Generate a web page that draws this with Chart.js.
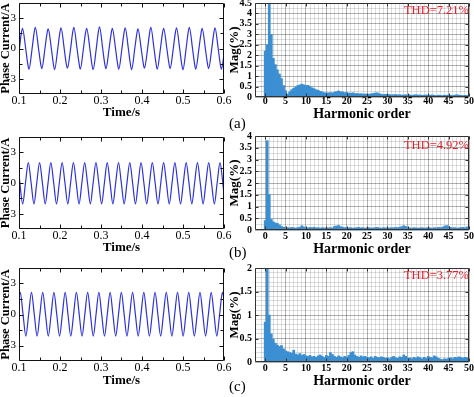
<!DOCTYPE html>
<html><head><meta charset="utf-8">
<script src="https://cdn.jsdelivr.net/npm/chart.js@4.4.1/dist/chart.umd.min.js"></script>
<style>
html,body{margin:0;padding:0;background:#fff;}
#wrap{position:relative;width:474px;height:397px;overflow:hidden;background:#fff;}
canvas{position:absolute;}
.lbl{position:absolute;font-family:"Liberation Serif","Times New Roman",serif;white-space:nowrap;line-height:1;}
.thd{color:#e0202a;font-size:12.5px;}
.tag{font-size:15px;color:#000;}
</style></head><body>
<div id="wrap">
<canvas id="wa" width="237" height="126" style="left:0;top:0;width:237px;height:126px"></canvas>
<canvas id="wb" width="237" height="130" style="left:0;top:128px;width:237px;height:130px"></canvas>
<canvas id="wc" width="237" height="135" style="left:0;top:262px;width:237px;height:135px"></canvas>
<canvas id="sa" width="248" height="126" style="left:226px;top:0;width:248px;height:126px"></canvas>
<canvas id="sb" width="248" height="130" style="left:226px;top:128px;width:248px;height:130px"></canvas>
<canvas id="sc" width="248" height="135" style="left:226px;top:262px;width:248px;height:135px"></canvas>
<div class="lbl thd" style="right:5px;top:4px">THD=7.21%</div>
<div class="lbl thd" style="right:5px;top:139px">THD=4.92%</div>
<div class="lbl thd" style="right:5px;top:269px">THD=3.77%</div>
<div class="lbl tag" style="left:229px;top:116px">(a)</div>
<div class="lbl tag" style="left:229px;top:245px">(b)</div>
<div class="lbl tag" style="left:229px;top:379px">(c)</div>
</div>
<script>
// ---------- waveform data (time in s, phase current in A) ----------
const timeA = [
0.1000,0.1050,0.1085,0.1163,0.1207,0.1242,
0.1320,0.1363,0.1398,0.1476,0.1520,0.1555,
0.1633,0.1676,0.1711,0.1789,0.1833,0.1868,
0.1946,0.1989,0.2024,0.2102,0.2146,0.2181,
0.2259,0.2302,0.2337,0.2415,0.2459,0.2494,
0.2572,0.2615,0.2650,0.2728,0.2772,0.2807,
0.2885,0.2928,0.2963,0.3041,0.3085,0.3120,
0.3198,0.3241,0.3276,0.3354,0.3398,0.3433,
0.3511,0.3554,0.3589,0.3667,0.3711,0.3746,
0.3824,0.3867,0.3902,0.3980,0.4024,0.4059,
0.4137,0.4180,0.4215,0.4293,0.4337,0.4372,
0.4450,0.4493,0.4528,0.4606,0.4650,0.4685,
0.4763,0.4806,0.4841,0.4919,0.4963,0.4998,
0.5076,0.5119,0.5154,0.5232,0.5276,0.5311,
0.5389,0.5432,0.5467,0.5545,0.5589,0.5624,
0.5702,0.5745,0.5780,0.5858,0.5902,0.5937,
0.6000];
const currentA = [
-0.40,1.35,2.00,0.00,-1.35,-2.05,
0.00,1.40,2.10,0.00,-1.30,-2.00,
0.00,1.30,1.95,0.00,-1.40,-2.10,
0.00,1.35,2.05,0.00,-1.35,-1.95,
0.00,1.40,2.10,0.00,-1.30,-2.05,
0.00,1.35,2.00,0.00,-1.40,-2.10,
0.00,1.45,2.15,0.00,-1.35,-2.00,
0.00,1.30,2.00,0.00,-1.35,-2.05,
0.00,1.35,2.05,0.00,-1.40,-2.10,
0.00,1.30,1.95,0.00,-1.30,-1.95,
0.00,1.40,2.10,0.00,-1.35,-2.05,
0.00,1.35,2.00,0.00,-1.30,-2.00,
0.00,1.35,2.05,0.00,-1.40,-2.10,
0.00,1.40,2.10,0.00,-1.35,-2.05,
0.00,1.30,2.00,0.00,-1.30,-2.00,
0.00,1.35,2.05,0.00,-1.35,-2.05,
-0.60];
const timeB = [
0.1000,0.1021,0.1090,
0.1158,0.1227,0.1296,0.1365,
0.1433,0.1502,0.1571,0.1640,
0.1708,0.1777,0.1846,0.1915,
0.1983,0.2052,0.2121,0.2190,
0.2258,0.2327,0.2396,0.2465,
0.2533,0.2602,0.2671,0.2740,
0.2808,0.2877,0.2946,0.3015,
0.3083,0.3152,0.3221,0.3290,
0.3358,0.3427,0.3496,0.3565,
0.3633,0.3702,0.3771,0.3840,
0.3908,0.3977,0.4046,0.4115,
0.4183,0.4252,0.4321,0.4390,
0.4458,0.4527,0.4596,0.4665,
0.4733,0.4802,0.4871,0.4940,
0.5008,0.5077,0.5146,0.5215,
0.5283,0.5352,0.5421,0.5490,
0.5558,0.5627,0.5696,0.5765,
0.5833,0.5902,0.5971,0.6000];
const currentB = [
0.92,0.00,-2.05,
0.00,2.00,0.00,-2.05,
0.00,2.00,0.00,-2.05,
0.00,2.00,0.00,-2.05,
0.00,2.00,0.00,-2.05,
0.00,2.00,0.00,-2.05,
0.00,2.00,0.00,-2.05,
0.00,2.00,0.00,-2.05,
0.00,2.00,0.00,-2.05,
0.00,2.00,0.00,-2.05,
0.00,2.00,0.00,-2.05,
0.00,2.00,0.00,-2.05,
0.00,2.00,0.00,-2.05,
0.00,2.00,0.00,-2.05,
0.00,2.00,0.00,-2.05,
0.00,2.00,0.00,-2.05,
0.00,2.00,0.00,-2.05,
0.00,2.00,0.00,-2.05,
0.00,2.00,0.00,-1.23];
const timeC = [
0.1000,0.1030,0.1099,0.1167,
0.1235,0.1304,0.1373,0.1441,
0.1509,0.1578,0.1647,0.1715,
0.1783,0.1852,0.1921,0.1989,
0.2057,0.2126,0.2195,0.2263,
0.2331,0.2400,0.2469,0.2537,
0.2605,0.2674,0.2743,0.2811,
0.2879,0.2948,0.3017,0.3085,
0.3153,0.3222,0.3291,0.3359,
0.3427,0.3496,0.3565,0.3633,
0.3701,0.3770,0.3839,0.3907,
0.3975,0.4044,0.4113,0.4181,
0.4249,0.4318,0.4387,0.4455,
0.4523,0.4592,0.4661,0.4729,
0.4797,0.4866,0.4935,0.5003,
0.5071,0.5140,0.5209,0.5277,
0.5345,0.5414,0.5483,0.5551,
0.5619,0.5688,0.5757,0.5825,
0.5893,0.5962,0.6000];
const currentC = [
1.66,2.15,0.00,-2.10,
0.00,2.15,0.00,-2.10,
0.00,2.15,0.00,-2.10,
0.00,2.15,0.00,-2.10,
0.00,2.15,0.00,-2.10,
0.00,2.15,0.00,-2.10,
0.00,2.15,0.00,-2.10,
0.00,2.15,0.00,-2.10,
0.00,2.15,0.00,-2.10,
0.00,2.15,0.00,-2.10,
0.00,2.15,0.00,-2.10,
0.00,2.15,0.00,-2.10,
0.00,2.15,0.00,-2.10,
0.00,2.15,0.00,-2.10,
0.00,2.15,0.00,-2.10,
0.00,2.15,0.00,-2.10,
0.00,2.15,0.00,-2.10,
0.00,2.15,0.00,-2.10,
0.00,2.15,1.38];

// ---------- harmonic spectra (Mag in %) ----------
const harmonicOrder = [
0,0.5,1,1.5,2,2.5,3,3.5,4,4.5,
5,5.5,6,6.5,7,7.5,8,8.5,9,9.5,
10,10.5,11,11.5,12,12.5,13,13.5,14,14.5,
15,15.5,16,16.5,17,17.5,18,18.5,19,19.5,
20,20.5,21,21.5,22,22.5,23,23.5,24,24.5,
25,25.5,26,26.5,27,27.5,28,28.5,29,29.5,
30,30.5,31,31.5,32,32.5,33,33.5,34,34.5,
35,35.5,36,36.5,37,37.5,38,38.5,39,39.5,
40,40.5,41,41.5,42,42.5,43,43.5,44,44.5,
45,45.5,46,46.5,47,47.5,48,48.5,49,49.5,
50];
const magA = [
2.2,2.5,4.5,3.0,1.85,1.55,1.3,1.1,0.88,0.55,
0.3,0.15,0.25,0.35,0.42,0.48,0.55,0.58,0.62,0.58,
0.55,0.56,0.5,0.44,0.4,0.35,0.32,0.27,0.24,0.21,
0.19,0.2,0.21,0.2,0.23,0.26,0.29,0.25,0.24,0.21,
0.22,0.19,0.18,0.2,0.16,0.17,0.15,0.16,0.14,0.15,
0.13,0.14,0.15,0.17,0.19,0.2,0.16,0.13,0.12,0.13,
0.11,0.12,0.1,0.11,0.12,0.1,0.11,0.09,0.1,0.11,
0.09,0.1,0.08,0.1,0.11,0.09,0.1,0.08,0.09,0.1,
0.08,0.09,0.1,0.08,0.07,0.09,0.08,0.07,0.09,0.08,
0.1,0.08,0.07,0.09,0.11,0.09,0.08,0.07,0.08,0.07,
0.06];
const magB = [
0.4,3.8,1.5,0.45,0.35,0.3,0.28,0.22,0.15,0.12,
0.12,0.1,0.09,0.11,0.1,0.08,0.1,0.12,0.18,0.13,
0.1,0.09,0.11,0.1,0.12,0.09,0.1,0.08,0.1,0.09,
0.08,0.09,0.1,0.09,0.15,0.17,0.19,0.14,0.12,0.1,
0.11,0.09,0.1,0.08,0.09,0.1,0.11,0.09,0.1,0.08,
0.09,0.1,0.08,0.09,0.1,0.11,0.09,0.08,0.1,0.09,
0.08,0.09,0.1,0.09,0.11,0.1,0.12,0.14,0.18,0.15,
0.1,0.09,0.08,0.1,0.09,0.08,0.09,0.1,0.08,0.09,
0.1,0.09,0.08,0.1,0.09,0.11,0.1,0.12,0.16,0.19,
0.15,0.11,0.09,0.1,0.08,0.09,0.1,0.11,0.09,0.13,
0.12];
const magC = [
0.85,2.1,1.0,0.6,0.48,0.4,0.36,0.33,0.35,0.28,
0.24,0.22,0.2,0.19,0.25,0.17,0.15,0.18,0.14,0.16,
0.13,0.12,0.14,0.11,0.12,0.1,0.13,0.15,0.12,0.1,
0.14,0.12,0.2,0.16,0.12,0.1,0.13,0.11,0.09,0.12,
0.1,0.14,0.2,0.22,0.15,0.12,0.1,0.13,0.11,0.12,
0.1,0.09,0.11,0.08,0.12,0.1,0.09,0.11,0.1,0.08,
0.09,0.07,0.1,0.12,0.09,0.08,0.11,0.1,0.15,0.12,
0.08,0.09,0.07,0.1,0.08,0.11,0.09,0.07,0.1,0.08,
0.12,0.1,0.09,0.13,0.11,0.08,0.06,0.05,0.07,0.06,
0.08,0.09,0.07,0.1,0.09,0.11,0.1,0.08,0.1,0.09,
0.08];

// ---------- tick positions ----------
const timeMajorTicks = [0.1,0.2,0.3,0.4,0.5,0.6];
const timeMinorTicks = [0.15,0.25,0.35,0.45,0.55];
const currentMajorTicks = [-3,0,3];
const currentMinorTicks = [-1.5,1.5];
const harmonicMajorTicks = [0,5,10,15,20,25,30,35,40,45,50];
const magMajorTicksA = [0.5,1,1.5,2,2.5,3,3.5,4];
const magMajorTicksB = [0.5,1,1.5,2,2.5,3,3.5];
const magMajorTicksC = [0.5,1,1.5];

const SERIF = '"Liberation Serif","Times New Roman",serif';
const WAVE_COLOR = 'rgb(45,50,215)';
const BAR_COLOR = 'rgb(58,142,210)';

const framePlugin = {
  id: 'frame',
  afterDraw(chart, args, o) {
    const {ctx, chartArea: a} = chart;
    const xs = chart.scales.x, ys = chart.scales.y;
    const L = Math.round(a.left) + 0.5, R = Math.round(a.right) - 0.5;
    const T = Math.round(a.top) + 0.5, B = Math.round(a.bottom) - 0.5;
    ctx.save();
    ctx.strokeStyle = o.color; ctx.lineWidth = 1;
    ctx.beginPath();
    const seg = (x1,y1,x2,y2)=>{ctx.moveTo(x1,y1);ctx.lineTo(x2,y2);};
    const xt = (arr,len)=>(arr||[]).forEach(v=>{const p=Math.round(xs.getPixelForValue(v))+0.5; seg(p,B,p,B-len); seg(p,T,p,T+len);});
    const yt = (arr,len)=>(arr||[]).forEach(v=>{const p=Math.round(ys.getPixelForValue(v))+0.5; seg(L,p,L+len,p); seg(R,p,R-len,p);});
    xt(o.xMajor,o.majorLen); xt(o.xMinor,o.minorLen);
    yt(o.yMajor,o.majorLen); yt(o.yMinor,o.minorLen);
    ctx.rect(L, T, R-L, B-T);
    ctx.stroke();
    ctx.restore();
  }
};
Chart.register(framePlugin);

function isMult(v, s){ const r = v/s; return Math.abs(r - Math.round(r)) < 1e-6; }
function zeroPad(s){ s.paddingLeft = 0; s.paddingRight = 0; s.paddingTop = 0; s.paddingBottom = 0; }

function waveChart(id, times, currents, L) {
  return new Chart(document.getElementById(id), {
    type: 'line',
    data: { datasets: [{ data: times.map((t,i)=>({x:t, y:currents[i]})),
      borderColor: WAVE_COLOR, borderWidth: 1.2, pointRadius: 0,
      cubicInterpolationMode: 'monotone', fill: false }] },
    options: {
      responsive: false, animation: false, devicePixelRatio: 1,
      layout: { padding: { left: 0, right: 13, top: L.padTop, bottom: 0 } },
      plugins: { legend: {display:false}, tooltip: {enabled:false},
        frame: { color:'#111', xMajor: timeMajorTicks, xMinor: timeMinorTicks,
                 yMajor: currentMajorTicks, yMinor: currentMinorTicks, majorLen: 4, minorLen: 3 } },
      scales: {
        x: { type:'linear', min:0.1, max:0.6,
          ticks: { stepSize:0.1, autoSkip:false, maxRotation:0, minRotation:0, padding:L.tickPad, color:'#000',
                   font:{family:SERIF, size:12, lineHeight:1.2}, callback: v => Number(v).toFixed(1) },
          grid: { display:false, drawTicks:false }, border: { display:false },
          title: { display:true, text:'Time/s', color:'#000',
                   font:{family:SERIF, size:13, weight:'bold', lineHeight:1.2}, padding:{top:0, bottom:L.titlePad} },
          afterFit: s => { s.height = L.xAxisH; zeroPad(s); } },
        y: { type:'linear', min:-4.5, max:4.5,
          ticks: { stepSize:1.5, autoSkip:false, padding:3, color:'#000',
                   font:{family:SERIF, size:11, lineHeight:1.2},
                   callback: v => isMult(v,3) ? String(Math.round(v)) : '' },
          grid: { display:false, drawTicks:false }, border: { display:false },
          title: { display:true, text:'Phase Current/A', color:'#000',
                   font:{family:SERIF, size:12.5, weight:'bold', lineHeight:1.2}, padding:{top:-2, bottom:0} },
          afterFit: s => { s.width = 19; zeroPad(s); } }
      }
    }
  });
}

function specChart(id, mags, yMax, yStep, yMajor, L) {
  return new Chart(document.getElementById(id), {
    type: 'bar',
    data: { datasets: [{ data: harmonicOrder.map((h,i)=>({x:h, y:mags[i]})),
      backgroundColor: BAR_COLOR, borderWidth: 0, barPercentage: 1, categoryPercentage: 1 }] },
    options: {
      responsive: false, animation: false, devicePixelRatio: 1,
      layout: { padding: { left: 0, right: 5, top: L.padTop, bottom: 0 } },
      plugins: { legend: {display:false}, tooltip: {enabled:false},
        frame: { color:'#333', xMajor: harmonicMajorTicks, yMajor: yMajor, majorLen: 3, minorLen: 0 } },
      scales: {
        x: { type:'linear', min:-2.5, max:50, offset:false,
          ticks: { stepSize:1, autoSkip:false, maxRotation:0, minRotation:0, maxTicksLimit:1000,
                   padding:L.tickPad, color:'#000',
                   font:{family:SERIF, size:10, weight:'bold', lineHeight:1.2},
                   callback: v => (isMult(v,5) && v >= 0) ? String(Math.round(v)) : '' },
          grid: { offset:false, drawTicks:false,
                  color: c => (c.tick && isMult(c.tick.value,5)) ? 'rgba(0,0,0,0.30)' : 'rgba(0,0,0,0.13)' },
          border: { display:false },
          title: { display:true, text:'Harmonic order', color:'#000',
                   font:{family:SERIF, size:14, weight:'bold', lineHeight:1.2}, padding:{top:0, bottom:L.titlePad} },
          afterFit: s => { s.height = L.xAxisH; zeroPad(s); } },
        y: { type:'linear', min:0, max:yMax,
          ticks: { stepSize:yStep, autoSkip:false, maxTicksLimit:1000, padding:3, color:'#000',
                   font:{family:SERIF, size:10, weight:'bold', lineHeight:1.2},
                   callback: v => isMult(v,0.5) ? String(+Number(v).toFixed(2)) : '' },
          grid: { drawTicks:false,
                  color: c => (c.tick && isMult(c.tick.value,0.5)) ? 'rgba(0,0,0,0.30)' : 'rgba(0,0,0,0.13)' },
          border: { display:false },
          title: { display:true, text:'Mag(%)', color:'#000',
                   font:{family:SERIF, size:13, weight:'bold', lineHeight:1.2}, padding:{top:1, bottom:0} },
          afterFit: s => { s.width = 29; zeroPad(s); } }
      }
    }
  });
}

waveChart('wa', timeA, currentA, {padTop:3, xAxisH:32, tickPad:-0.5, titlePad:6});
waveChart('wb', timeB, currentB, {padTop:9, xAxisH:29, tickPad:-0.2, titlePad:3});
waveChart('wc', timeC, currentC, {padTop:6, xAxisH:36, tickPad:-0.2, titlePad:9});
specChart('sa', magA, 4.5, 0.25, magMajorTicksA, {padTop:3, xAxisH:29, tickPad:-2, titlePad:3.5});
specChart('sb', magB, 4, 0.25, magMajorTicksB, {padTop:8, xAxisH:28, tickPad:0, titlePad:0.5});
specChart('sc', magC, 2, 0.1, magMajorTicksC, {padTop:6, xAxisH:35, tickPad:0, titlePad:7});
</script>
</body></html>
